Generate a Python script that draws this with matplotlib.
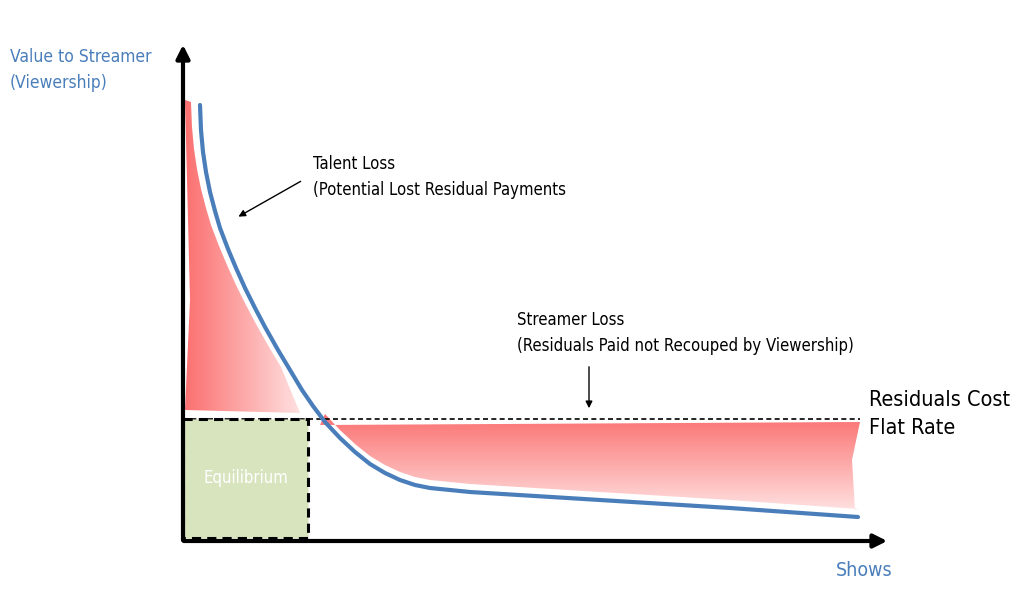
import numpy as np
import matplotlib
matplotlib.use("Agg")
import matplotlib.pyplot as plt
from matplotlib.patches import Polygon, Rectangle
from matplotlib.colors import LinearSegmentedColormap

plt.rcParams['font.family'] = ['DejaVu Sans']
plt.rcParams['font.stretch'] = 'condensed'

# Demand curve (value to streamer), in diagram units (x: shows, y: value; pixel-like scale)
curve_x = [200, 201, 203, 206, 210, 215, 220, 228, 236, 245, 255, 265, 278, 290, 302, 313, 325, 340, 355, 370, 385, 400, 415, 430, 450, 470, 600, 730, 858]
curve_y = [105, 130, 152, 172, 192, 211, 228, 249, 268, 288, 308, 327, 350, 370, 390, 406, 422, 438, 452, 464, 473, 480, 485, 488, 490, 492, 500, 508, 517]
flat_rate = 419
eq_x = 308
blue = '#4a7ebb'

fig = plt.figure(figsize=(10.25, 5.99), dpi=100)
ax = fig.add_axes([0, 0, 1, 1])
ax.set_xlim(0, 1025); ax.set_ylim(599, 0); ax.axis('off')
cm = LinearSegmentedColormap.from_list('r', ['#fb7070', '#ffe0e0'])

def grad_fill(poly_pts, vertical=False):
    poly = Polygon(poly_pts, closed=True, fc='none', ec='none')
    ax.add_patch(poly)
    xs = [p[0] for p in poly_pts]; ys = [p[1] for p in poly_pts]
    if vertical:
        g = np.linspace(1, 0, 256)[:, None]
    else:
        g = np.linspace(0, 1, 256)[None, :]
    im = ax.imshow(g, cmap=cm, extent=[min(xs), max(xs), max(ys), min(ys)], aspect='auto', zorder=1,
                   origin='upper' if not vertical else 'lower')
    im.set_clip_path(poly)

cx = np.array(curve_x); cy = np.array(curve_y)
m = cx <= 300
pts = [(185, 100), (190, 300), (185, 410), (300, 413)]
pts += list(zip(cx[m][::-1] - 9, cy[m][::-1] - 3))
grad_fill(pts)

m2 = cx >= 325
pts2 = [(320, 425), (860, 422), (852, 460), (855, 510)]
pts2 += list(zip(cx[m2][::-1], cy[m2][::-1] - 8))
grad_fill(pts2, vertical=True)

ax.add_patch(Rectangle((183, flat_rate), eq_x - 183, 538 - flat_rate, fc='#d7e4bd', ec='black',
                       lw=2.2, ls=(0, (3, 2)), zorder=3))
ax.text(246, 478, 'Equilibrium', color='white', ha='center', va='center', fontsize=12, zorder=4)

ax.plot([183, 860], [flat_rate, flat_rate], color='black', ls=(0, (3, 2)), lw=1.2, zorder=2)
ax.plot(curve_x, curve_y, color=blue, lw=3, zorder=5, solid_capstyle='round', solid_joinstyle='round')

ax.annotate('', xy=(183, 42), xytext=(183, 543), arrowprops=dict(arrowstyle='-|>,head_width=0.4,head_length=0.8', lw=3, color='black'), zorder=6)
ax.annotate('', xy=(890, 541), xytext=(181, 541), arrowprops=dict(arrowstyle='-|>,head_width=0.4,head_length=0.8', lw=3, color='black'), zorder=6)

ax.text(10, 70, 'Value to Streamer\n(Viewership)', color=blue, fontsize=12.5, va='center', linespacing=1.5)
ax.text(836, 570, 'Shows', color=blue, fontsize=14, va='center')
ax.text(313, 177, 'Talent Loss\n(Potential Lost Residual Payments', fontsize=12, va='center', linespacing=1.6)
ax.text(517, 333, 'Streamer Loss\n(Residuals Paid not Recouped by Viewership)', fontsize=12, va='center', linespacing=1.6)
ax.text(869, 414, 'Residuals Cost\nFlat Rate', fontsize=15.5, va='center', linespacing=1.5)
ax.annotate('', xy=(236, 218), xytext=(303, 180), arrowprops=dict(arrowstyle='-|>', lw=1, color='black'))
ax.annotate('', xy=(589, 411), xytext=(589, 364), arrowprops=dict(arrowstyle='-|>', lw=1, color='black'))

fig.savefig('out.png', dpi=100)
